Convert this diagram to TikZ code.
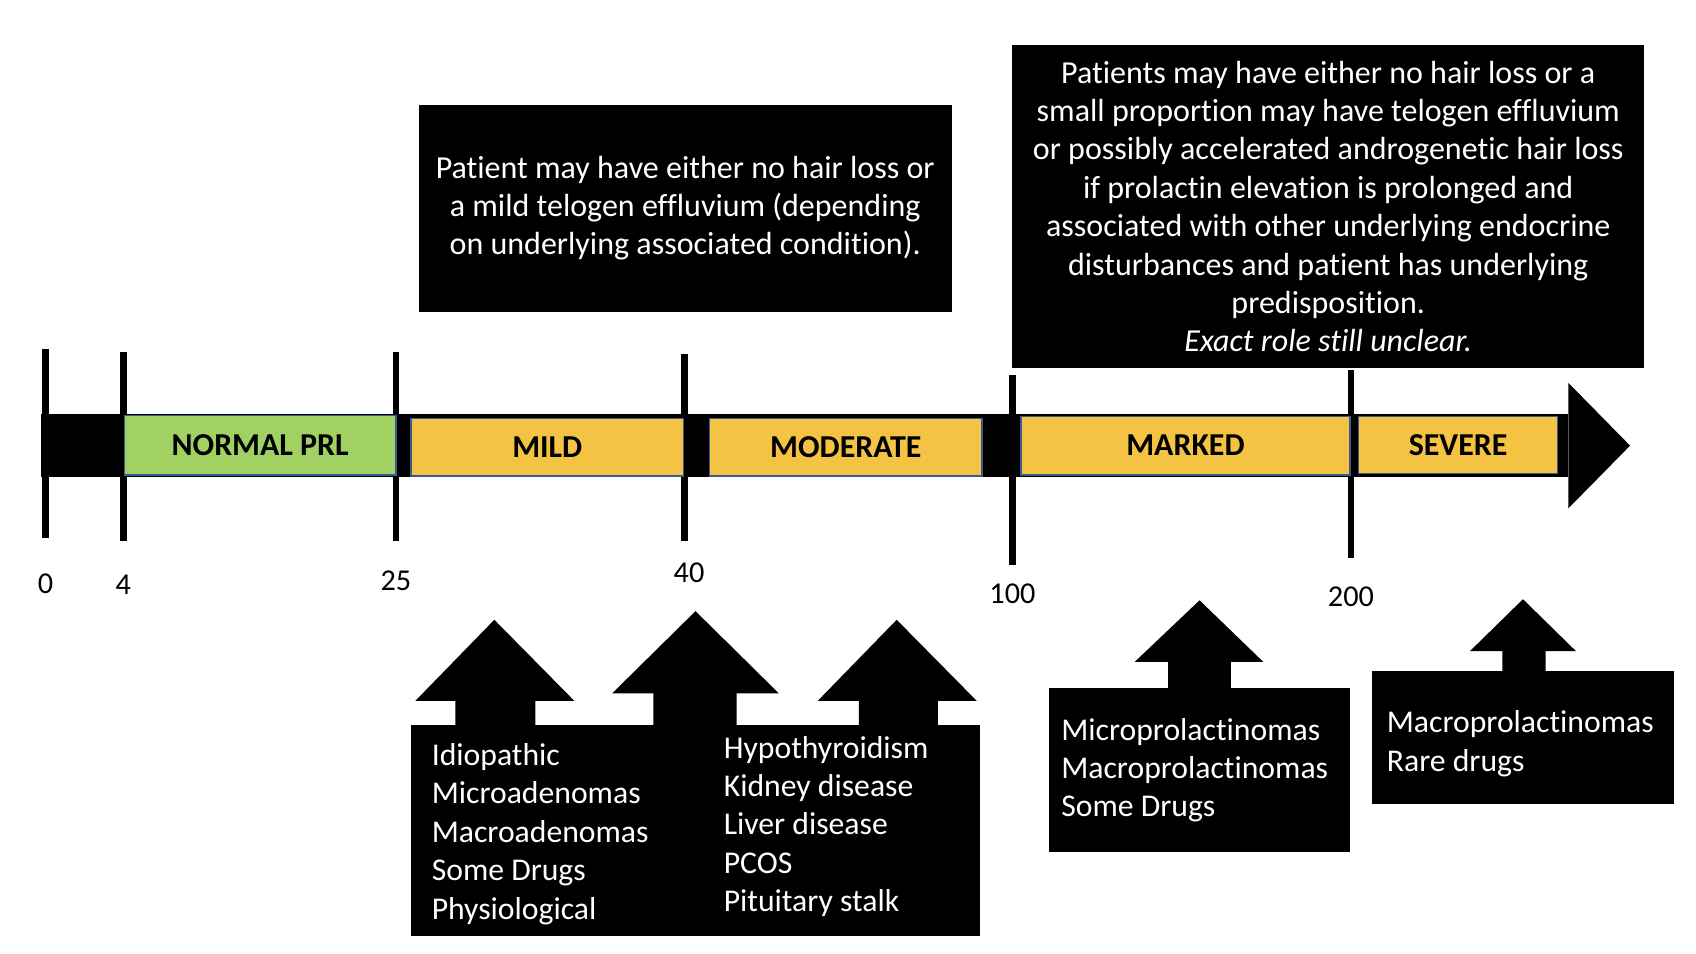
\documentclass[tikz,border=0pt]{standalone}
\usepackage{fontspec}
\setmainfont[Ligatures={NoCommon}]{Carlito}
\definecolor{prlgreen}{HTML}{A1D063}
\definecolor{prlgold}{HTML}{F5C343}
\definecolor{prledge}{HTML}{3A5A94}
\tikzset{
  tickline/.style={line width=6pt},
  band/.style={draw=prledge, line width=1.3pt, inner sep=0pt, font=\fontsize{29.5}{34}\selectfont\bfseries},
  blackbox/.style={fill=black, text=white, inner sep=0pt, align=center, font=\fontsize{29.6}{35.5}\selectfont},
  listtext/.style={text=white, inner sep=0pt, align=left, anchor=west, font=\fontsize{29.3}{35.5}\selectfont},
  numlabel/.style={inner sep=0pt, font=\fontsize{28}{32}\selectfont},
  upshape/.style={fill=black}
}
\begin{document}
\begin{tikzpicture}[x=1pt,y=-1pt]
\useasboundingbox (0,0) rectangle (1568,882);
% main bar and arrowhead
\fill (38,383) rectangle (1450,441);
\fill (1450,354) -- (1507,412) -- (1450,470) -- cycle;
% ticks
\draw[tickline] (42,323) -- (42,497);
\draw[tickline] (114,325) -- (114,500);
\draw[tickline] (366,325) -- (366,500);
\draw[tickline] (633,327) -- (633,500);
\draw[tickline] (936,347) -- (936,522);
\draw[tickline] (1249,342) -- (1249,516);
% tick labels
\node[numlabel] (l0) at (42,540) {0};
\node[numlabel] (l4) at (114,541) {4};
\node[numlabel] (l25) at (366,537) {25};
\node[numlabel] (l40) at (637,530) {40};
\node[numlabel] (l100) at (936,549) {100};
\node[numlabel] (l200) at (1249,552) {200};
% bands
\node[band, fill=prlgreen, minimum width=251pt, minimum height=55pt] (normal) at (240.5,411.5) {NORMAL PRL};
\node[band, fill=prlgold, minimum width=252pt, minimum height=53pt] (mild) at (506,413.5) {MILD};
\node[band, fill=prlgold, minimum width=252pt, minimum height=53pt] (moderate) at (782,413.5) {MODERATE};
\node[band, fill=prlgold, minimum width=304pt, minimum height=54pt] (marked) at (1096,412) {MARKED};
\node[band, fill=prlgold, minimum width=184pt, minimum height=53pt] (severe) at (1348,411.5) {SEVERE};
% top boxes
\node[blackbox, minimum width=493pt, minimum height=191pt] (topmid) at (633.5,192.5)
  {Patient may have either no hair loss or\\ a mild telogen effluvium (depending\\ on underlying associated condition).};
\node[blackbox, minimum width=584pt, minimum height=298pt] (topright) at (1228,191)
  {Patients may have either no hair loss or a\\ small proportion may have telogen effluvium\\ or possibly accelerated androgenetic hair loss\\ if prolactin elevation is prolonged and\\ associated with other underlying endocrine\\ disturbances and patient has underlying\\ predisposition.\\ \textit{Exact role still unclear.}};
% bottom combined shape
\fill[upshape] (380,670) rectangle (906,865);
\fill[upshape] (421,672) -- (421,648) -- (384,648) -- (457,573) -- (531,648) -- (495,648) -- (495,672) -- cycle;
\fill[upshape] (604,672) -- (604,641) -- (566,641) -- (643,565) -- (720,641) -- (681,641) -- (681,672) -- cycle;
\fill[upshape] (794,672) -- (794,648) -- (756,648) -- (829,573) -- (903,648) -- (867,648) -- (867,672) -- cycle;
\node[listtext] (causesA) at (399,771) {Idiopathic\\ Microadenomas\\ Macroadenomas\\ Some Drugs\\ Physiological};
\node[listtext] (causesB) at (669,764) {Hypothyroidism\\ Kidney disease\\ Liver disease\\ PCOS\\ Pituitary stalk};
% box 3
\fill[upshape] (970,636) rectangle (1248,788);
\fill[upshape] (1080,638) -- (1080,612) -- (1049,612) -- (1109,555) -- (1168,612) -- (1138,612) -- (1138,638) -- cycle;
\node[listtext] (causesC) at (981,712) {Microprolactinomas\\ Macroprolactinomas\\ Some Drugs};
% box 4
\fill[upshape] (1268,620) rectangle (1548,743);
\fill[upshape] (1389,622) -- (1389,602) -- (1359,602) -- (1408,554) -- (1457,602) -- (1429,602) -- (1429,622) -- cycle;
\node[listtext] (causesD) at (1282,687.5) {Macroprolactinomas\\ Rare drugs};
\end{tikzpicture}
\end{document}
